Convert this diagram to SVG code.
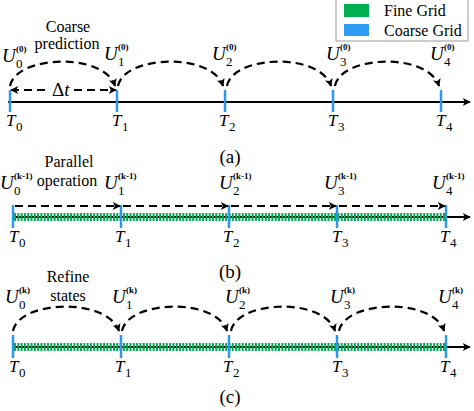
<svg xmlns="http://www.w3.org/2000/svg" width="474" height="411" viewBox="0 0 474 411">
<defs>
<marker id="ah" viewBox="0 0 10 10" refX="9" refY="5" markerWidth="9" markerHeight="8" markerUnits="userSpaceOnUse" orient="auto-start-reverse"><path d="M0,0 L10,5 L0,10 L2.5,5 z" fill="#000"/></marker>
</defs>
<style>
text{font-family:'Liberation Serif','Times New Roman','DejaVu Serif',serif;fill:#000}
.ax{stroke:#000;stroke-width:2;fill:none}
.tick{stroke:#2e96f0;stroke-width:2.5}
.dash{stroke:#000;stroke-width:2.2;fill:none;stroke-dasharray:8 5}
.fine{stroke:#00a84f;stroke-width:8;stroke-dasharray:2 1.3;fill:none}
.u{font-style:italic;font-size:19px}
.t{font-style:italic;font-size:17px}
.sub{font-size:13px}
.sup{font-size:9px;font-weight:bold}
.lbl{font-size:16px;text-anchor:middle}
.cap{font-size:19px;text-anchor:middle}
.leg{font-size:16px}
</style>

<g id="legend">
<rect x="336" y="-1" width="132" height="42" fill="#fff" stroke="#999" stroke-width="1"/>
<rect x="344" y="4" width="25" height="13" fill="#00b050"/>
<rect x="344" y="24" width="25" height="12" fill="#2e9cf4"/>
<text class="leg" x="384" y="16">Fine Grid</text>
<text class="leg" x="384" y="36">Coarse Grid</text>
</g>

<g id="panel-a">
<g id="axis-a">
<line class="ax" x1="8" y1="102" x2="470" y2="102" marker-end="url(#ah)"/>
<line class="tick" x1="10" y1="90" x2="10" y2="112"/>
<line class="tick" x1="117" y1="90" x2="117" y2="112"/>
<line class="tick" x1="225" y1="90" x2="225" y2="112"/>
<line class="tick" x1="333" y1="90" x2="333" y2="112"/>
<line class="tick" x1="441" y1="90" x2="441" y2="112"/>
</g>
<g id="connectors-a">
<path class="dash" d="M10,86 C16,55 104,52 115,86" marker-end="url(#ah)"/>
<path class="dash" d="M118,86 C124,55 212,52 223,86" marker-end="url(#ah)"/>
<path class="dash" d="M227,86 C233,55 320,52 331,86" marker-end="url(#ah)"/>
<path class="dash" d="M335,86 C341,55 428,52 439,86" marker-end="url(#ah)"/>
<line class="dash" x1="11" y1="90" x2="49" y2="90" stroke-dasharray="6 4" marker-start="url(#ah)"/>
<line class="dash" x1="74" y1="90" x2="116" y2="90" stroke-dasharray="6 4" marker-end="url(#ah)"/>
</g>
<text x="52" y="96" font-size="19">Δ<tspan font-style="italic">t</tspan></text>
<text class="lbl" x="68" y="32">Coarse</text>
<text class="lbl" x="67" y="49">prediction</text>
<g id="U-a">
<text class="u" x="2" y="62">U</text><text class="sub" x="16" y="68">0</text><text class="sup" x="16" y="52">(0)</text>
<text class="u" x="104" y="60">U</text><text class="sub" x="118" y="66">1</text><text class="sup" x="118" y="50">(0)</text>
<text class="u" x="212" y="60">U</text><text class="sub" x="226" y="66">2</text><text class="sup" x="226" y="50">(0)</text>
<text class="u" x="326" y="60">U</text><text class="sub" x="340" y="66">3</text><text class="sup" x="340" y="50">(0)</text>
<text class="u" x="430" y="60">U</text><text class="sub" x="444" y="66">4</text><text class="sup" x="444" y="50">(0)</text>
</g>
<g id="T-a">
<text class="t" x="6" y="126">T</text><text class="sub" x="16" y="131">0</text>
<text class="t" x="112" y="126">T</text><text class="sub" x="122" y="131">1</text>
<text class="t" x="219" y="126">T</text><text class="sub" x="229" y="131">2</text>
<text class="t" x="328" y="126">T</text><text class="sub" x="338" y="131">3</text>
<text class="t" x="436" y="126">T</text><text class="sub" x="446" y="131">4</text>
</g>
<text class="cap" x="230" y="163">(a)</text>
</g>

<g id="panel-b">
<g id="axis-b">
<line class="ax" x1="13" y1="217" x2="470" y2="217" marker-end="url(#ah)"/>
<line class="fine" x1="14" y1="217" x2="446" y2="217"/>
<line class="tick" x1="13" y1="205" x2="13" y2="228"/>
<line class="tick" x1="121" y1="205" x2="121" y2="228"/>
<line class="tick" x1="229" y1="205" x2="229" y2="228"/>
<line class="tick" x1="337" y1="205" x2="337" y2="228"/>
<line class="tick" x1="446" y1="205" x2="446" y2="228"/>
</g>
<g id="connectors-b">
<line class="dash" x1="15" y1="206" x2="120" y2="206" marker-end="url(#ah)"/>
<line class="dash" x1="123" y1="206" x2="228" y2="206" marker-end="url(#ah)"/>
<line class="dash" x1="231" y1="206" x2="336" y2="206" marker-end="url(#ah)"/>
<line class="dash" x1="339" y1="206" x2="445" y2="206" marker-end="url(#ah)"/>
</g>
<text class="lbl" x="69" y="167">Parallel</text>
<text class="lbl" x="67" y="186">operation</text>
<g id="U-b">
<text class="u" x="0" y="189">U</text><text class="sub" x="14" y="195">0</text><text class="sup" x="14" y="179">(k-1)</text>
<text class="u" x="104" y="189">U</text><text class="sub" x="118" y="195">1</text><text class="sup" x="118" y="179">(k-1)</text>
<text class="u" x="219" y="189">U</text><text class="sub" x="233" y="195">2</text><text class="sup" x="233" y="179">(k-1)</text>
<text class="u" x="324" y="189">U</text><text class="sub" x="338" y="195">3</text><text class="sup" x="338" y="179">(k-1)</text>
<text class="u" x="432" y="189">U</text><text class="sub" x="446" y="195">4</text><text class="sup" x="446" y="179">(k-1)</text>
</g>
<g id="T-b">
<text class="t" x="9" y="242">T</text><text class="sub" x="19" y="247">0</text>
<text class="t" x="115" y="242">T</text><text class="sub" x="125" y="247">1</text>
<text class="t" x="223" y="242">T</text><text class="sub" x="233" y="247">2</text>
<text class="t" x="332" y="242">T</text><text class="sub" x="342" y="247">3</text>
<text class="t" x="440" y="242">T</text><text class="sub" x="450" y="247">4</text>
</g>
<text class="cap" x="230" y="278">(b)</text>
</g>

<g id="panel-c">
<g id="axis-c">
<line class="ax" x1="13" y1="347" x2="470" y2="347" marker-end="url(#ah)"/>
<line class="fine" x1="14" y1="347" x2="446" y2="347"/>
<line class="tick" x1="13" y1="335" x2="13" y2="358"/>
<line class="tick" x1="121" y1="335" x2="121" y2="358"/>
<line class="tick" x1="229" y1="335" x2="229" y2="358"/>
<line class="tick" x1="337" y1="335" x2="337" y2="358"/>
<line class="tick" x1="446" y1="335" x2="446" y2="358"/>
</g>
<g id="connectors-c">
<path class="dash" d="M13,331 C19,300 107,297 119,331" marker-end="url(#ah)"/>
<path class="dash" d="M122,331 C128,300 216,297 227,331" marker-end="url(#ah)"/>
<path class="dash" d="M231,331 C237,300 324,297 335,331" marker-end="url(#ah)"/>
<path class="dash" d="M339,331 C345,300 433,297 444,331" marker-end="url(#ah)"/>
</g>
<text class="lbl" x="68" y="282">Refine</text>
<text class="lbl" x="68" y="301">states</text>
<g id="U-c">
<text class="u" x="5" y="303">U</text><text class="sub" x="19" y="309">0</text><text class="sup" x="19" y="293">(k)</text>
<text class="u" x="112" y="303">U</text><text class="sub" x="126" y="309">1</text><text class="sup" x="126" y="293">(k)</text>
<text class="u" x="225" y="303">U</text><text class="sub" x="239" y="309">2</text><text class="sup" x="239" y="293">(k)</text>
<text class="u" x="330" y="303">U</text><text class="sub" x="344" y="309">3</text><text class="sup" x="344" y="293">(k)</text>
<text class="u" x="438" y="303">U</text><text class="sub" x="452" y="309">4</text><text class="sup" x="452" y="293">(k)</text>
</g>
<g id="T-c">
<text class="t" x="9" y="372">T</text><text class="sub" x="19" y="377">0</text>
<text class="t" x="115" y="372">T</text><text class="sub" x="125" y="377">1</text>
<text class="t" x="223" y="372">T</text><text class="sub" x="233" y="377">2</text>
<text class="t" x="332" y="372">T</text><text class="sub" x="342" y="377">3</text>
<text class="t" x="440" y="372">T</text><text class="sub" x="450" y="377">4</text>
</g>
<text class="cap" x="230" y="403">(c)</text>
</g>
</svg>
